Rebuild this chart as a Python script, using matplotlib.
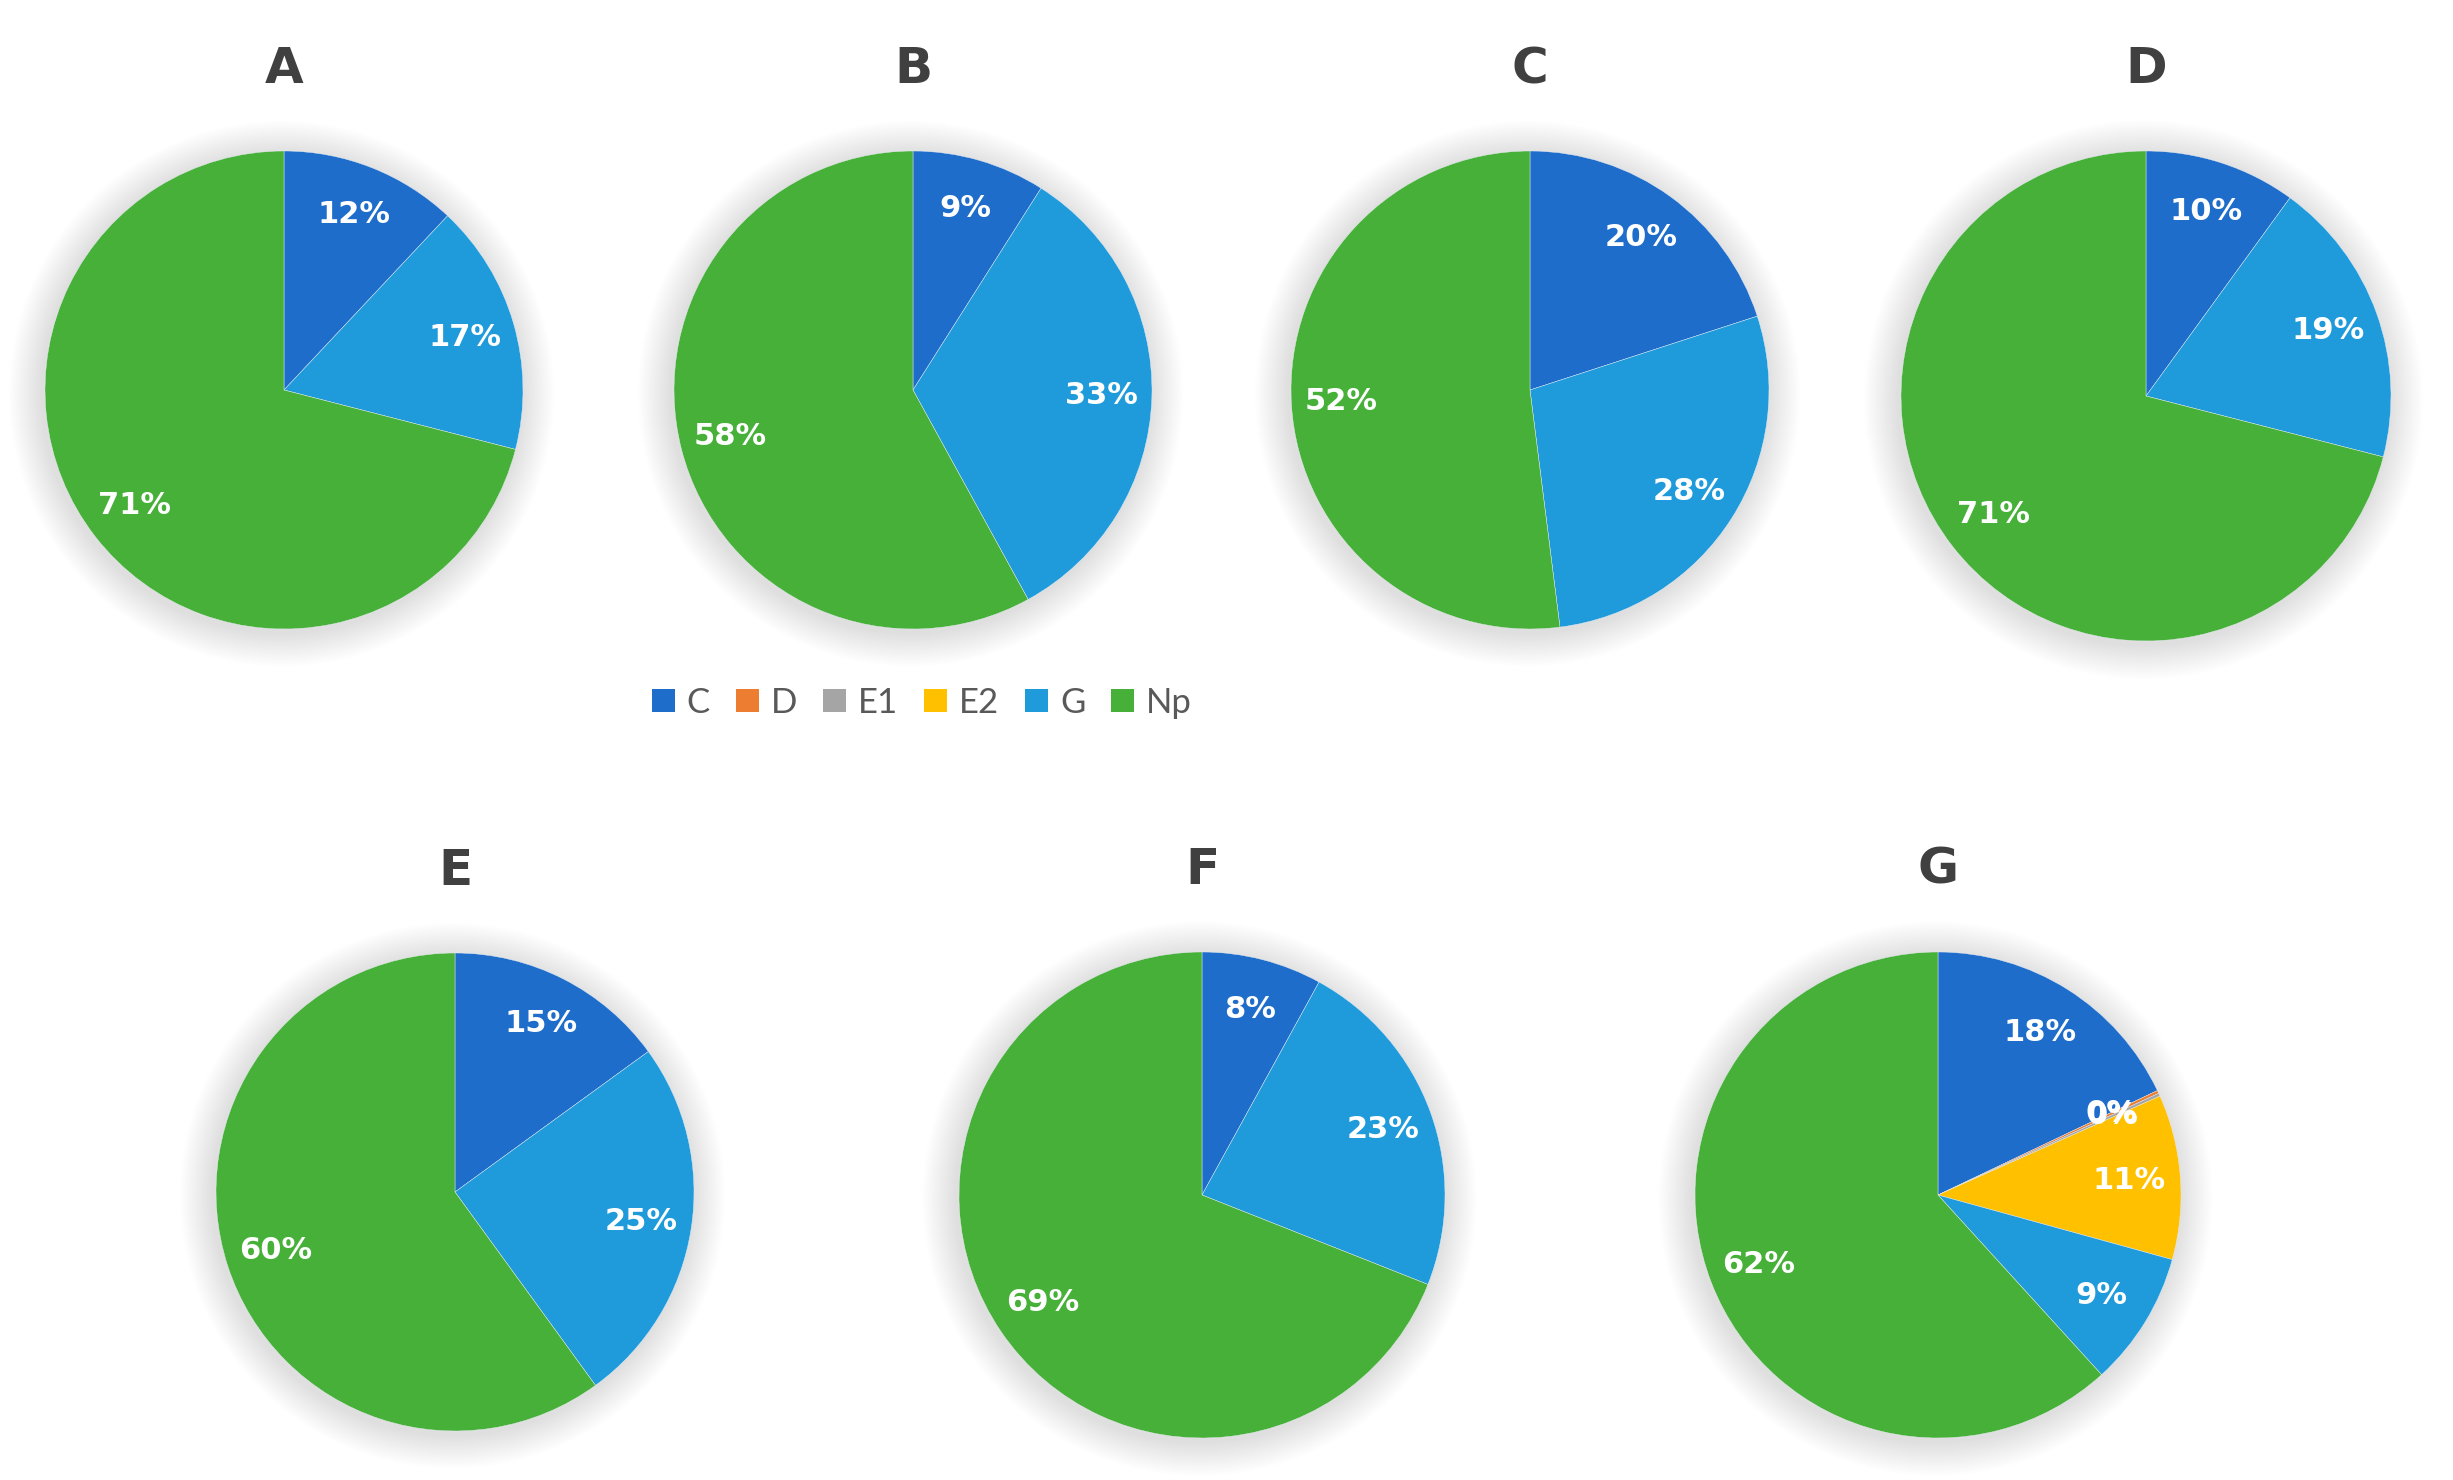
import matplotlib
matplotlib.use("Agg")
import matplotlib.pyplot as plt
from matplotlib.patches import Circle, Patch
import numpy as np

W, H = 2453, 1480

CATEGORIES = ["C", "D", "E1", "E2", "G", "Np"]
COLORS = ["#1f6dcb", "#ed7d31", "#a5a5a5", "#ffc000", "#1f9bdb", "#46b038"]
PANELS = ["A", "B", "C", "D", "E", "F", "G"]
# share of each category (%), 0 = not present
A_VALUES = [12, 0, 0, 0, 17, 71]
B_VALUES = [9, 0, 0, 0, 33, 58]
C_VALUES = [20, 0, 0, 0, 28, 52]
D_VALUES = [10, 0, 0, 0, 19, 71]
E_VALUES = [15, 0, 0, 0, 25, 60]
F_VALUES = [8, 0, 0, 0, 23, 69]
G_VALUES = [18, 0.2, 0.2, 11, 9, 62]
ALL_VALUES = [A_VALUES, B_VALUES, C_VALUES, D_VALUES, E_VALUES, F_VALUES, G_VALUES]

# pie centres and radius in pixels (layout only)
CENTERS = [(284, 390), (913, 390), (1530, 390), (2146, 396),
           (455, 1192), (1202, 1195), (1938, 1195)]
RADII = [239, 239, 239, 245, 239, 243, 243]

fig = plt.figure(figsize=(W / 100, H / 100), dpi=100)
fig.patch.set_facecolor("white")

for name, vals, (cx, cy), r in zip(PANELS, ALL_VALUES, CENTERS, RADII):
    half = r / 0.8
    ax = fig.add_axes([(cx - half) / W, 1 - (cy + half) / H, 2 * half / W, 2 * half / H])
    ax.axis("off")
    # soft shadow halo
    for k in range(16):
        ax.add_patch(Circle((-0.008, -0.012), 0.8 + 0.007 * (k + 1), color="#000000",
                            alpha=0.009, lw=0, zorder=0))
    v = np.array(vals, dtype=float)
    mask = v > 0
    cols = [c for c, m in zip(COLORS, mask) if m]
    wedges, texts, autotexts = ax.pie(
        v[mask], colors=cols, startangle=90, counterclock=False, radius=0.8,
        autopct="%.0f%%", pctdistance=0.79,
        wedgeprops=dict(edgecolor="#e8eef5", linewidth=0.3),
        textprops=dict(color="white", fontsize=22, fontweight="bold", family="DejaVu Sans"))
    for w in wedges:
        w.set_zorder(2)
    for t in autotexts:
        t.set_zorder(3)
    ax.set_xlim(-1, 1)
    ax.set_ylim(-1, 1)
    ax.set_aspect("equal")
    fig.text(cx / W, 1 - (cy - r - 82) / H, name, ha="center", va="center",
             fontsize=36, fontweight="bold", color="#404040", family="DejaVu Sans")

handles = [Patch(facecolor=c, edgecolor="none", label=l) for c, l in zip(COLORS, CATEGORIES)]
fig.legend(handles=handles, loc="center", bbox_to_anchor=(922 / W, 1 - 703 / H), ncol=6,
           frameon=False, handlelength=0.65, handleheight=0.65, handletextpad=0.35,
           columnspacing=0.75,
           prop=dict(family="Lato", size=25),
           labelcolor="#595959")

fig.savefig("out.png", dpi=100, facecolor="white")
